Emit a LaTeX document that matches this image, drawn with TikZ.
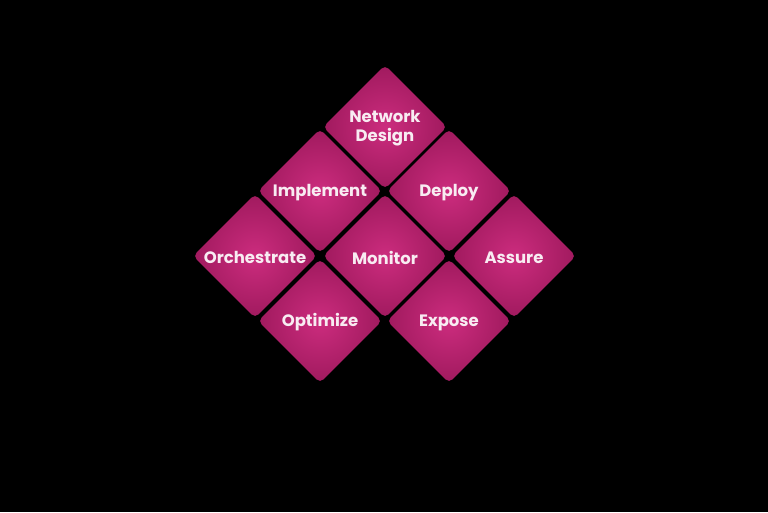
\documentclass[tikz,border=0pt]{standalone}
\usepackage{fontspec}
\setmainfont{Poppins}
\usetikzlibrary{shapes.geometric}
\definecolor{magin}{HTML}{CC2C7E}
\definecolor{magout}{HTML}{A01A5E}
\definecolor{txt}{HTML}{F8ECF2}
\tikzset{
  tile/.style={diamond, minimum width=124pt, minimum height=124pt, inner sep=0pt,
    rounded corners=5pt, shading=radial, inner color=magin, outer color=magout},
  lbl/.style={text=txt, font=\bfseries\fontsize{16.5}{19}\selectfont, align=center, inner sep=0pt, yshift=-1.5pt}
}
\begin{document}
\begin{tikzpicture}[x=1pt,y=-1pt]
\fill[black] (0,0) rectangle (768,512);
\useasboundingbox (0,0) rectangle (768,512);
\node[tile] (d1) at (385,127) {};
\node[tile] (d2) at (320,191) {};
\node[tile] (d3) at (449,191) {};
\node[tile] (d4) at (255,256) {};
\node[tile] (d5) at (385,256) {};
\node[tile] (d6) at (514,256) {};
\node[tile] (d7) at (320,321) {};
\node[tile] (d8) at (449,321) {};
\node[lbl] (t1) at (d1) {Network\\Design};
\node[lbl] (t2) at (d2) {Implement};
\node[lbl] (t3) at (d3) {Deploy};
\node[lbl] (t4) at (d4) {Orchestrate};
\node[lbl] (t5) at (d5) {Monitor};
\node[lbl] (t6) at (d6) {Assure};
\node[lbl] (t7) at (d7) {Optimize};
\node[lbl] (t8) at (d8) {Expose};
\end{tikzpicture}
\end{document}
